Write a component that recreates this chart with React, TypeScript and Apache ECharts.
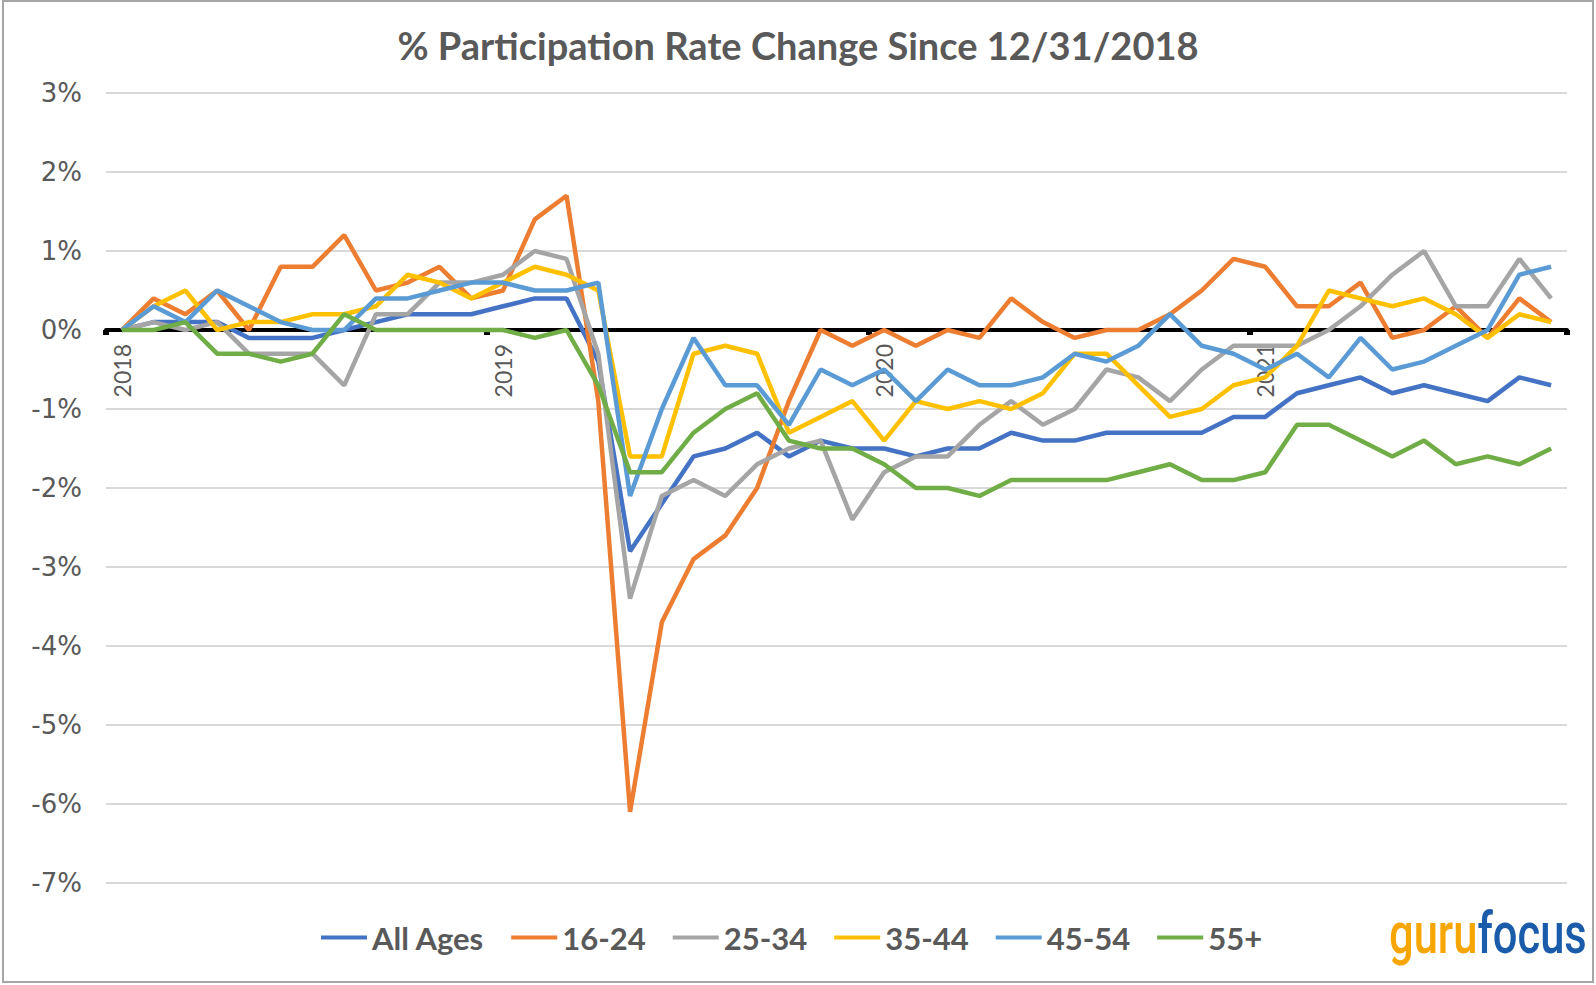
import React, { useEffect, useRef } from "react";
import * as echarts from "echarts";

const months = [
  "2018-12",
  "2019-01", "2019-02", "2019-03", "2019-04", "2019-05", "2019-06", "2019-07", "2019-08", "2019-09", "2019-10", "2019-11", "2019-12",
  "2020-01", "2020-02", "2020-03", "2020-04", "2020-05", "2020-06", "2020-07", "2020-08", "2020-09", "2020-10", "2020-11", "2020-12",
  "2021-01", "2021-02", "2021-03", "2021-04", "2021-05", "2021-06", "2021-07", "2021-08", "2021-09", "2021-10", "2021-11", "2021-12",
  "2022-01", "2022-02", "2022-03", "2022-04", "2022-05", "2022-06", "2022-07", "2022-08", "2022-09",
];

const allAges = [0, 0.1, 0.1, 0.1, -0.1, -0.1, -0.1, 0.0, 0.1, 0.2, 0.2, 0.2, 0.3, 0.4, 0.4, -0.4, -2.8, -2.2, -1.6, -1.5, -1.3, -1.6, -1.4, -1.5, -1.5, -1.6, -1.5, -1.5, -1.3, -1.4, -1.4, -1.3, -1.3, -1.3, -1.3, -1.1, -1.1, -0.8, -0.7, -0.6, -0.8, -0.7, -0.8, -0.9, -0.6, -0.7];
const age16_24 = [0, 0.4, 0.2, 0.5, 0.0, 0.8, 0.8, 1.2, 0.5, 0.6, 0.8, 0.4, 0.5, 1.4, 1.7, -0.9, -6.1, -3.7, -2.9, -2.6, -2.0, -0.9, 0.0, -0.2, 0.0, -0.2, 0.0, -0.1, 0.4, 0.1, -0.1, 0.0, 0.0, 0.2, 0.5, 0.9, 0.8, 0.3, 0.3, 0.6, -0.1, 0.0, 0.3, -0.1, 0.4, 0.1];
const age25_34 = [0, 0.1, 0.0, 0.1, -0.3, -0.3, -0.3, -0.7, 0.2, 0.2, 0.6, 0.6, 0.7, 1.0, 0.9, -0.3, -3.4, -2.1, -1.9, -2.1, -1.7, -1.5, -1.4, -2.4, -1.8, -1.6, -1.6, -1.2, -0.9, -1.2, -1.0, -0.5, -0.6, -0.9, -0.5, -0.2, -0.2, -0.2, 0.0, 0.3, 0.7, 1.0, 0.3, 0.3, 0.9, 0.4];
const age35_44 = [0, 0.3, 0.5, 0.0, 0.1, 0.1, 0.2, 0.2, 0.3, 0.7, 0.6, 0.4, 0.6, 0.8, 0.7, 0.5, -1.6, -1.6, -0.3, -0.2, -0.3, -1.3, -1.1, -0.9, -1.4, -0.9, -1.0, -0.9, -1.0, -0.8, -0.3, -0.3, -0.7, -1.1, -1.0, -0.7, -0.6, -0.2, 0.5, 0.4, 0.3, 0.4, 0.2, -0.1, 0.2, 0.1];
const age45_54 = [0, 0.3, 0.1, 0.5, 0.3, 0.1, 0.0, 0.0, 0.4, 0.4, 0.5, 0.6, 0.6, 0.5, 0.5, 0.6, -2.1, -1.0, -0.1, -0.7, -0.7, -1.2, -0.5, -0.7, -0.5, -0.9, -0.5, -0.7, -0.7, -0.6, -0.3, -0.4, -0.2, 0.2, -0.2, -0.3, -0.5, -0.3, -0.6, -0.1, -0.5, -0.4, -0.2, 0.0, 0.7, 0.8];
const age55plus = [0, 0.0, 0.1, -0.3, -0.3, -0.4, -0.3, 0.2, 0.0, 0.0, 0.0, 0.0, 0.0, -0.1, 0.0, -0.7, -1.8, -1.8, -1.3, -1.0, -0.8, -1.4, -1.5, -1.5, -1.7, -2.0, -2.0, -2.1, -1.9, -1.9, -1.9, -1.9, -1.8, -1.7, -1.9, -1.9, -1.8, -1.2, -1.2, -1.4, -1.6, -1.4, -1.7, -1.6, -1.7, -1.5];

const seriesNames = ["All Ages", "16-24", "25-34", "35-44", "45-54", "55+"];
const seriesValues = [allAges, age16_24, age25_34, age35_44, age45_54, age55plus];
const seriesColors = ["#4472C4", "#ED7D31", "#A5A5A5", "#FFC000", "#5B9BD5", "#70AD47"];

const titleText = "% Participation Rate Change Since 12/31/2018";

const GRID_TOP = 93;
const GRID_HEIGHT = 790;
const Y_MIN = -7;
const Y_MAX = 3;
// distance from the grid bottom up to the 0% line, so the category axis sits on zero
const ZERO_OFFSET = (GRID_HEIGHT * (0 - Y_MIN)) / (Y_MAX - Y_MIN);

export default function App() {
  const ref = useRef<HTMLDivElement>(null);
  useEffect(() => {
    if (!ref.current) return;
    const chart = echarts.init(ref.current, null, { renderer: "svg" });
    chart.setOption({
      animation: false,
      backgroundColor: "#ffffff",
      title: {
        text: titleText,
        left: "center",
        top: 21,
        textStyle: { fontFamily: "Lato", fontSize: 38, fontWeight: "bold", color: "#595959" },
      },
      legend: {
        data: seriesNames,
        left: 316,
        top: 917,
        icon: "rect",
        itemWidth: 46,
        itemHeight: 4,
        itemGap: 27,
        textStyle: { fontFamily: "Lato", fontSize: 31, fontWeight: "bold", color: "#595959" },
      },
      grid: { left: 106, right: 29, top: GRID_TOP, height: GRID_HEIGHT, containLabel: false },
      xAxis: {
        type: "category",
        data: months,
        boundaryGap: true,
        position: "bottom",
        offset: -ZERO_OFFSET,
        axisLine: { onZero: false, lineStyle: { color: "#000000", width: 4 } },
        axisTick: { show: true, interval: 11, length: 5, lineStyle: { color: "#000000", width: 6 } },
        axisLabel: {
          interval: 11,
          rotate: 90,
          margin: 14,
          fontFamily: "Lato",
          fontSize: 23,
          color: "#595959",
          formatter: (v: string) => v.slice(0, 4),
        },
        splitLine: { show: false },
      },
      yAxis: {
        type: "value",
        min: Y_MIN,
        max: Y_MAX,
        interval: 1,
        axisLine: { show: false },
        axisTick: { show: false },
        axisLabel: {
          formatter: "{value}%",
          fontFamily: "DejaVu Sans",
          fontSize: 26,
          color: "#595959",
          margin: 24,
        },
        splitLine: { lineStyle: { color: "#D9D9D9", width: 2 } },
      },
      series: seriesNames.map((name, i) => ({
        name,
        type: "line",
        data: seriesValues[i],
        symbol: "none",
        color: seriesColors[i],
        lineStyle: { width: 4.5, color: seriesColors[i] },
      })),
      graphic: [
        {
          type: "rect",
          shape: { x: 3, y: 1, width: 1590, height: 981 },
          style: { fill: "none", stroke: "#A6A6A6", lineWidth: 2 },
          silent: true,
        },
        {
          type: "text",
          x: 1389,
          y: 904,
          scaleX: 0.75,
          style: {
            text: "{a|guru}{b|focus}",
            rich: {
              a: { fill: "#F7A600", fontSize: 58, fontWeight: 500, fontFamily: "Roboto, sans-serif" },
              b: { fill: "#1A5BAA", fontSize: 58, fontWeight: 500, fontFamily: "Roboto, sans-serif" },
            },
          },
        },
      ],
    });
    return () => chart.dispose();
  }, []);
  return (
    <div
      ref={ref}
      style={{ position: "absolute", left: 0, top: 0, width: 1596, height: 985 }}
    />
  );
}
